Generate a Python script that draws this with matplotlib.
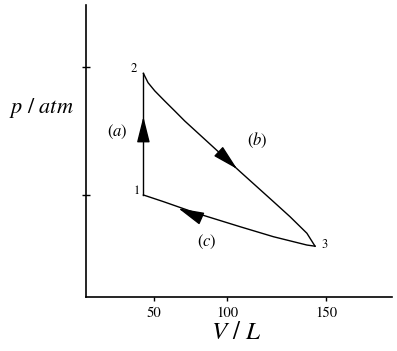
import numpy as np
import matplotlib as mpl
mpl.use('Agg')
import matplotlib.pyplot as plt

mpl.rcParams['mathtext.fontset'] = 'stix'
mpl.rcParams['font.family'] = ['STIXGeneral', 'DejaVu Serif']

# Cycle corners (V in L, p in atm)
V_pts = [42.7, 42.7, 144.4]
p_pts = [1.0, 1.95, 0.60]
pt_labels = ['1', '2', '3']

# Path (b): 2 -> 3
V_b = [42.7, 45.9, 50.5, 57.3, 64.2, 71.0, 82.7, 94.0, 106.6, 115.0, 123.4, 131.8, 140.3, 144.4]
p_b = [1.95, 1.877, 1.813, 1.734, 1.656, 1.578, 1.456, 1.338, 1.182, 1.065, 0.948, 0.830,
       0.701, 0.60]

# Path (c): 3 -> 1
V_c = [144.4, 140.3, 123.4, 106.6, 79.2, 56.4, 42.7]
p_c = [0.60, 0.609, 0.674, 0.752, 0.857, 0.948, 1.0]

# Arrow heads: (tip, tail) for each path
arrow_tips = [(42.7, 1.612), (105.1, 1.203), (66.6, 0.896)]
arrow_tails = [(42.7, 1.443), (94.9, 1.332), (82.0, 0.819)]

xticks = [50, 100, 150]
yticks = [1, 2]


# the drawing is not to scale: 50->100 is shorter than 100->150
def _fwd(v):
    v = np.asarray(v, float)
    return np.where(v <= 100, (v - 50) * 1.46, 73 + (v - 100) * 1.98)


def _inv(u):
    u = np.asarray(u, float)
    return np.where(u <= 73, 50 + u / 1.46, 100 + (u - 73) / 1.98)


fig = plt.figure(figsize=(3.97, 3.51), dpi=100)
ax = fig.add_axes([0.2166, 0.1538, 0.771, 0.832])
ax.set_xscale('function', functions=(_fwd, _inv))

lw = 1.0
ax.plot([V_pts[0], V_pts[1]], [p_pts[0], p_pts[1]], color='black', lw=lw)
ax.plot(V_b, p_b, color='black', lw=lw)
ax.plot(V_c, p_c, color='black', lw=lw)

style = mpl.patches.ArrowStyle('-|>', head_length=1.6, head_width=0.4)
for tip, tail in zip(arrow_tips, arrow_tails):
    ax.annotate('', xy=tip, xytext=tail,
                arrowprops=dict(arrowstyle=style, mutation_scale=10, color='black',
                                lw=lw, shrinkA=0, shrinkB=0))

offsets = [(-5, 3), (-7, 3), (7, 1)]
for v, p, lab, off in zip(V_pts, p_pts, pt_labels, offsets):
    ax.annotate(lab, xy=(v, p), xytext=off, textcoords='offset points',
                ha='center', va='center', fontsize=9)

ax.text(24.7, 1.49, r'$(a)$', fontsize=12, ha='center', va='center')
ax.text(115.2, 1.43, r'$(b)$', fontsize=12, ha='center', va='center')
ax.text(86.1, 0.635, r'$(c)$', fontsize=12, ha='center', va='center')

ax.set_xlim(3.4, 183.3)
ax.set_ylim(0.203, 2.484)
ax.set_xticks(xticks)
ax.set_yticks(yticks)
ax.set_yticklabels([])
ax.tick_params(axis='x', direction='out', length=3, width=1, labelsize=10.5, pad=4)
ax.tick_params(axis='y', direction='inout', length=6, width=1)
ax.minorticks_off()

for side in ['top', 'right']:
    ax.spines[side].set_visible(False)
for side in ['left', 'bottom']:
    ax.spines[side].set_linewidth(1.2)

ax.set_xlabel(r'$V\ /\ L$', fontsize=18, va='center')
ax.xaxis.set_label_coords(0.49, -0.123)
ax.set_ylabel(r'$p\ /\ atm$', fontsize=16, rotation=0, ha='center', va='center')
ax.yaxis.set_label_coords(-0.147, 0.647)

fig.savefig('out.png', dpi=100)
plt.close(fig)
